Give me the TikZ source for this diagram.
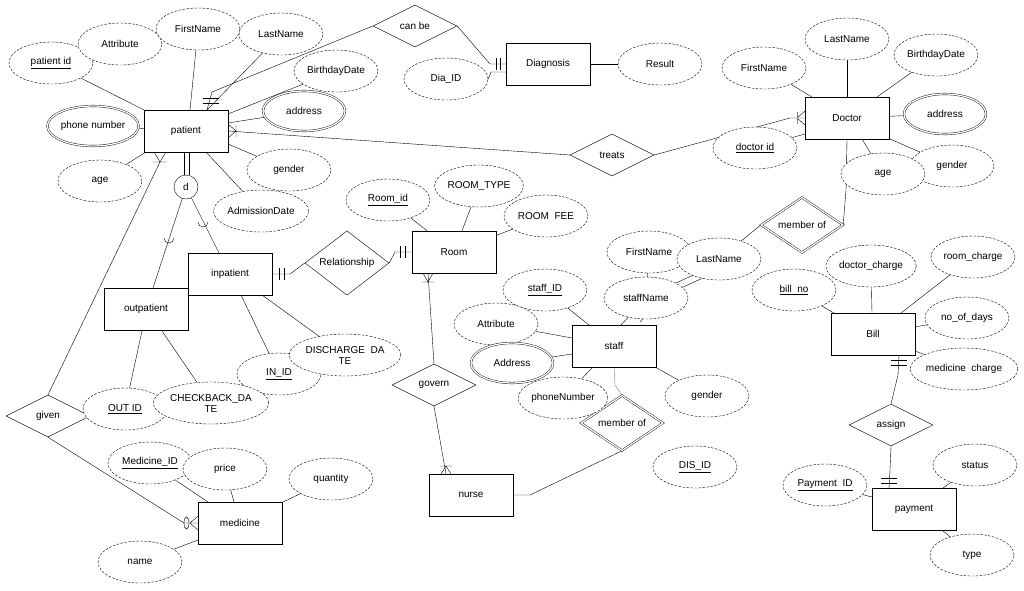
\documentclass[tikz,border=0pt]{standalone}
\usepackage{fontspec}
\setmainfont{Liberation Sans}
\usetikzlibrary{shapes.geometric,backgrounds}
\begin{document}
\begin{tikzpicture}[x=1pt,y=-1pt,
 every node/.style={font=\fontsize{10}{11}\selectfont,align=center},
 ent/.style={draw,rectangle,minimum width=84pt,minimum height=42pt,inner sep=0pt,fill=white},
 att/.style={draw,ellipse,dash pattern=on 2.5pt off 1.5pt,minimum width=84pt,minimum height=42pt,inner sep=0pt,fill=white},
 matt/.style={draw,ellipse,double,double distance=1.3pt,minimum width=82pt,minimum height=40pt,inner sep=0pt,fill=white},
 rel/.style={draw,diamond,minimum width=84pt,minimum height=42pt,inner sep=0pt,fill=white},
 wrel/.style={draw,diamond,double,double distance=1.3pt,minimum width=82pt,minimum height=40pt,inner sep=0pt,fill=white}]
\useasboundingbox (0,0) rectangle (1024,590);
% entities
\node[ent] (patient) at (186,131) {patient};
\node[ent] (diag) at (548,64) {Diagnosis};
\node[ent] (doctor) at (847,118) {Doctor};
\node[ent] (inpat) at (230,274) {inpatient};
\node[ent] (outpat) at (146,309) {outpatient};
\node[ent] (room) at (454,252) {Room};
\node[ent] (staff) at (614,346) {staff};
\node[ent] (nurse) at (471,495) {nurse};
\node[ent] (med) at (240,523) {medicine};
\node[ent] (bill) at (873,334) {Bill};
\node[ent] (pay) at (914,509) {payment};
% relationships
\node[rel] (canbe) at (415,26) {can be};
\node[rel] (treats) at (612,155) {treats};
\node[rel] (relship) at (347,263) {Relationship};
\node[rel] (given) at (48,416) {given};
\node[rel] (govern) at (434,385) {govern};
\node[rel] (assign) at (891,425) {assign};
\node[wrel] (memD) at (802,225) {member of};
\node[wrel] (memS) at (622,423) {member of};
\node[draw,circle,minimum size=24pt,inner sep=0pt,fill=white] (d) at (186,187) {d};
% patient attributes
\node[att] (pid) at (51,63) {\underline{patient id}};
\node[att] (pattr) at (120,44) {Attribute};
\node[att] (pfn) at (198,29) {FirstName};
\node[att] (pln) at (281,34) {LastName};
\node[att] (pbd) at (336,71) {BirthdayDate};
\node[matt] (paddr) at (304,111) {address};
\node[matt] (pphone) at (93,126) {phone number};
\node[att] (page) at (100,181) {age};
\node[att] (pgen) at (289,170) {gender};
\node[att] (padm) at (261,211) {AdmissionDate};
\node[att] (diaid) at (446,79) {Dia\_ID};
\node[att] (result) at (660,64) {Result};
% doctor
\node[att] (dfn) at (764,68) {FirstName};
\node[att] (dln) at (847,39) {LastName};
\node[att] (dbd) at (936,55) {BirthdayDate};
\node[matt] (daddr) at (945,114) {address};
\node[att] (did) at (755,148) {\underline{doctor id}};
\node[att] (dgen) at (952,166) {gender};
\node[att] (dage) at (883,174) {age};
% room
\node[att] (rid) at (388,200) {\underline{Room\_id}};
\node[att] (rtype) at (479,186) {ROOM\_TYPE};
\node[att] (rfee) at (546,216) {ROOM\ \ FEE};
% in/out patient
\node[att] (inid) at (279,374) {\underline{IN\_ID}};
\node[att] (disc) at (345,355) {DISCHARGE\ \ DA\\TE};
\node[att] (outid) at (125,409) {\underline{OUT ID}};
\node[att] (cb) at (211,403) {CHECKBACK\_DA\\TE};
% medicine
\node[att] (mid) at (150,463) {\underline{Medicine\_ID}};
\node[att] (price) at (225,469) {price};
\node[att] (qty) at (331,479) {quantity};
\node[att] (mname) at (140,562) {name};
% staff
\node[att] (sfn) at (649,252) {FirstName};
\node[att] (sln) at (719,259) {LastName};
\node[att] (sid) at (545,290) {\underline{staff\_ID}};
\node[att] (sname) at (646,298) {staffName};
\node[att] (sattr) at (496,324) {Attribute};
\node[matt] (saddr) at (512,363) {Address};
\node[att] (sphone) at (563,398) {phoneNumber};
\node[att] (sgen) at (707,396) {gender};
\node[att] (disid) at (695,467) {\underline{DIS\_ID}};
% bill
\node[att] (billno) at (794,290) {\underline{bill\ \ no}};
\node[att] (dch) at (871,266) {doctor\_charge};
\node[att] (rch) at (973,257) {room\_charge};
\node[att] (nod) at (967,318) {no\_of\_days};
\node[att] (mch) at (964,369) {medicine\ \ charge};
\node[att] (payid) at (825,485) {\underline{Payment\ \ ID}};
\node[att] (status) at (975,465) {status};
\node[att] (ptype) at (972,555) {type};

\begin{pgfonlayer}{background}
% patient
\draw (pid) -- (patient.north west);
\draw (pfn) -- (190,110);
\draw (pln) -- (207,110);
\draw (pbd) -- (228,114);
\draw (paddr) -- (228,123);
\draw (pphone) -- (patient);
\draw (page) -- (146,152);
\draw (pgen) -- (228,144);
\draw (padm) -- (206,152);
\coordinate (c1) at (212,92);
\draw (207,110) -- (c1) -- (canbe.west);
\draw (203,98) -- (219,98) (203,103) -- (219,103);
\coordinate (c2) at (490,64);
\draw (canbe.east) -- (c2) -- (diag.west);
\draw (496,58) -- (496,70) (500,58) -- (500,70);
\coordinate (c3) at (491,72);
\draw (diaid.east) -- (c3) -- (506,72);
\draw (diag) -- (result);
% treats
\draw (patient.east) -- (treats.west);
\draw (236,131) -- (228,124) (236,131) -- (228,138) (236,125) -- (236,137);
\coordinate (c4) at (790,118);
\draw (treats.east) -- (c4) -- (doctor.west);
\draw (797,118) -- (805,111) (797,118) -- (805,125);
\draw[gray] (797,112) -- (797,124);
\draw (did) -- (805,134);
% doctor attributes
\draw (dfn) -- (812,97);
\draw (dln) -- (doctor);
\draw (dbd) -- (877,97);
\draw (daddr) -- (doctor);
\draw (dgen) -- (890,139);
\draw (dage) -- (862,139);
\draw (sln) -- (memD.west);
\coordinate (c5) at (846,190);
\draw (memD.east) -- (c5) -- (doctor.south);
% d hierarchy
\draw (184,152) -- (184,175) (189,152) -- (189,175);
\draw (d) -- (153,288);
\draw (d) -- (219,253);
\draw (164,238) arc[start angle=180,end angle=0,radius=5];
\draw (198,222) arc[start angle=180,end angle=0,radius=5];
% inpatient
\coordinate (c6) at (290,274);
\draw (inpat.east) -- (c6) -- (relship.west);
\draw (279,268) -- (279,280) (284,268) -- (284,280);
\coordinate (c7) at (395,252);
\draw (relship.east) -- (c7) -- (room.west);
\draw (400,246) -- (400,258) (405,246) -- (405,258);
\draw (inid) -- (241,295);
\draw (disc) -- (262,295);
\draw (outid) -- (142,331);
\draw (cb) -- (162,331);
% given
\coordinate (c8) at (160,162);
\draw (c8) -- (given.north);
\draw (c8) -- (154,152) (c8) -- (166,152) (153,162) -- (167,162);
\coordinate (c9) at (184,523);
\draw (given.south) -- (c9);
\draw (c9) -- (198,523) (190,523) -- (198,516) (190,523) -- (198,530);
\draw (186.5,523) ellipse[x radius=2.5,y radius=6];
\draw (mid) -- (208,502);
\draw (price) -- (234,502);
\draw (qty) -- (283,502);
\draw (mname) -- (198,540);
% room
\draw (rid) -- (room);
\draw (rtype) -- (room);
\draw (rfee) -- (room);
\coordinate (c10) at (428,282);
\draw (428,273) -- (govern.north);
\draw (c10) -- (423,273) (c10) -- (433,273) (422,282) -- (434,282);
\coordinate (c11) at (446,466);
\draw (govern.south) -- (446,474);
\draw (c11) -- (441,474) (c11) -- (451,474) (440,466) -- (452,466);
% nurse / staff
\coordinate (c12) at (530,495);
\draw (nurse.east) -- (c12) -- (memS.south);
\coordinate (c13) at (615,385);
\draw[gray] (memS.north) -- (c13) -- (staff.south);
\draw (sid) -- (589,325);
\draw (sname) -- (621,325);
\draw (640,322) -- (648,313);
\draw (sfn) -- (sname);
\draw (676,283) -- (700,272) (681,288) -- (705,277);
\draw (sattr) -- (572,338);
\draw (saddr) -- (572,354);
\draw (sphone) -- (593,367);
\draw (sgen) -- (655,367);
% bill
\draw (billno) -- (834,313);
\draw (dch) -- (872,313);
\draw (rch) -- (901,313);
\draw (nod) -- (bill);
\draw (mch) -- (915,351);
\coordinate (c14) at (898,375);
\draw (899,355) -- (c14) -- (assign.north);
\draw (891,360) -- (907,360) (891,365) -- (907,365);
\coordinate (c15) at (890,470);
\draw (assign.south) -- (c15) -- (889,488);
\draw (881,478) -- (897,478) (881,483) -- (897,483);
\draw (payid) -- (872,497);
\draw (status) -- (943,488);
\draw (ptype) -- (942,530);
\end{pgfonlayer}
\end{tikzpicture}
\end{document}
